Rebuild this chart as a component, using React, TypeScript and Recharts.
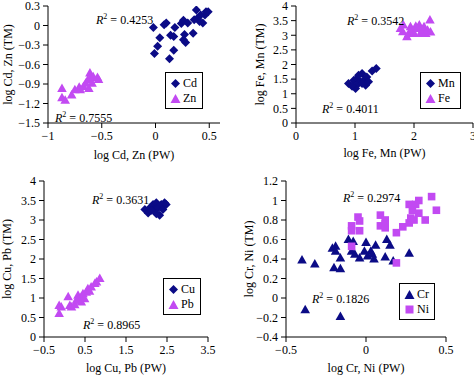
import { ScatterChart, Scatter, XAxis, YAxis, Legend } from "recharts";

// panel 1: Cd / Zn
const cdX = [-0.02, -0.01, 0.02, 0.04, 0.08, 0.1, 0.13, 0.14, 0.17, 0.17, 0.18, 0.24, 0.26, 0.27, 0.28, 0.3, 0.35, 0.38, 0.39, 0.42, 0.44, 0.46, 0.47, 0.41, 0.49, 0.36, 0.26];
const cdY = [-0.03, -0.43, -0.32, -0.19, 0.01, 0.04, -0.51, -0.15, -0.17, -0.38, -0.03, 0.03, 0.08, -0.14, -0.26, 0.04, -0.12, 0.24, 0.11, 0.16, 0.04, 0.16, 0.21, 0.06, 0.21, 0.09, -0.22];
const znX = [-0.87, -0.87, -0.84, -0.78, -0.75, -0.71, -0.7, -0.67, -0.65, -0.63, -0.61, -0.61, -0.59, -0.58, -0.62, -0.54, -0.53];
const znY = [-0.97, -1.11, -1.15, -1.07, -0.99, -0.95, -0.99, -0.94, -0.89, -0.84, -0.73, -0.81, -0.89, -0.79, -0.97, -0.8, -0.83];

// panel 2: Mn / Fe
const mnX = [0.89, 0.98, 1.01, 1.03, 1.06, 1.09, 1.12, 1.15, 1.18, 1.2, 1.03, 1.12, 1.29, 1.36, 1.23, 0.95];
const mnY = [1.35, 1.46, 1.18, 1.51, 1.63, 1.41, 1.69, 1.46, 1.29, 1.57, 1.29, 1.35, 1.78, 1.86, 1.41, 1.26];
const feX = [1.77, 1.81, 1.82, 1.88, 1.91, 1.94, 1.97, 2.0, 2.06, 2.09, 2.11, 2.14, 2.17, 2.2, 2.23, 2.27, 2.03, 2.28];
const feY = [3.23, 3.12, 3.35, 2.95, 3.06, 3.29, 3.17, 3.06, 3.23, 3.35, 3.06, 3.17, 3.29, 3.06, 3.17, 3.52, 3.31, 3.11];

// panel 3: Cu / Pb
const cuX = [1.96, 2.04, 2.08, 2.16, 2.2, 2.24, 2.28, 2.32, 2.36, 2.4, 2.44, 2.12, 2.24, 2.48];
const cuY = [3.27, 3.18, 3.31, 3.4, 3.27, 3.44, 3.31, 3.12, 3.4, 3.27, 3.44, 3.25, 3.16, 3.4];
const pbX = [-0.13, -0.13, -0.08, 0.09, 0.13, 0.17, 0.25, 0.33, 0.37, 0.41, 0.45, 0.49, 0.53, 0.57, 0.61, 0.65, 0.74, 0.78, 0.86, 0.29, 0.41];
const pbY = [0.6, 0.81, 0.77, 1.03, 0.81, 0.77, 0.83, 1.07, 0.94, 1.03, 1.11, 0.98, 1.15, 1.24, 1.17, 1.28, 1.37, 1.41, 1.5, 0.94, 0.9];

// panel 4: Cr / Ni
const crX = [-0.4, -0.38, -0.32, -0.21, -0.19, -0.19, -0.2, -0.16, -0.16, -0.16, -0.11, -0.08, -0.09, -0.07, -0.04, 0.0, -0.01, 0.01, 0.03, 0.04, 0.05, 0.06, 0.13, 0.15, 0.12, 0.17, 0.27];
const crY = [0.39, -0.12, 0.35, 0.51, 0.53, 0.48, 0.31, 0.41, 0.3, -0.19, 0.6, 0.58, 0.48, 0.45, 0.41, 0.57, 0.48, 0.43, 0.48, 0.45, 0.4, 0.54, 0.6, 0.54, 0.42, 0.38, 0.46];
const niX = [-0.09, -0.09, -0.09, -0.05, -0.04, -0.04, 0.09, 0.09, 0.12, 0.12, 0.12, 0.19, 0.19, 0.23, 0.27, 0.27, 0.28, 0.29, 0.3, 0.33, 0.33, 0.37, 0.41, 0.44, 0.31];
const niY = [0.74, 0.69, 0.53, 0.83, 0.79, 0.69, 0.85, 0.74, 0.8, 0.76, 0.72, 0.67, 0.36, 0.73, 0.77, 0.96, 0.82, 0.9, 0.8, 1.0, 0.87, 0.8, 1.04, 0.9, 0.96];

const NAVY = "#0b0b86";
const VIOLET = "#c24af2";
const FONT = '"Liberation Serif", "Times New Roman", serif';

const zip = (xs: number[], ys: number[]) => xs.map((x, i) => ({ x, y: ys[i] }));
const fmt = (v: number) => String(v).replace("-", "\u2212");

const Diamond = (p: any) => {
  const { cx, cy, fill } = p;
  const r = 4.5;
  return <polygon points={`${cx},${cy - r} ${cx + r},${cy} ${cx},${cy + r} ${cx - r},${cy}`} fill={fill} />;
};
const Triangle = (p: any) => {
  const { cx, cy, fill } = p;
  return <polygon points={`${cx},${cy - 5} ${cx + 4.8},${cy + 3.5} ${cx - 4.8},${cy + 3.5}`} fill={fill} />;
};
const Square = (p: any) => {
  const { cx, cy, fill } = p;
  return <rect x={cx - 3.8} y={cy - 3.8} width={7.6} height={7.6} fill={fill} />;
};

const SHAPES: Record<string, any> = { diamond: Diamond, triangle: Triangle, square: Square };

const LegendBox = ({ payload, order }: any) => {
  const items = [...(payload || [])].sort((a: any, b: any) => order.indexOf(a.value) - order.indexOf(b.value));
  return (
    <div style={{ border: "1px solid #000", background: "#fff", padding: "3px 5px 2px 4px", fontFamily: FONT, fontSize: 12, color: "#000" }}>
      {items.map((e: any) => (
        <div key={e.value} style={{ display: "flex", alignItems: "center", height: 15 }}>
          <svg width={11} height={11} style={{ marginRight: 2 }}>
            {e.type === "diamond" && <polygon points="5.5,1 10,5.5 5.5,10 1,5.5" fill={e.color} />}
            {e.type === "triangle" && <polygon points="5.5,1 10.5,10 0.5,10" fill={e.color} />}
            {e.type === "square" && <rect x={1.5} y={1.5} width={8} height={8} fill={e.color} />}
          </svg>
          <span>{e.value}</span>
        </div>
      ))}
    </div>
  );
};

interface Series {
  name: string;
  data: { x: number; y: number }[];
  color: string;
  shape: string;
}

interface PanelProps {
  left: number;
  top: number;
  height: number;
  margin: { top: number; right: number; bottom: number; left: number };
  yWidth: number;
  xHeight: number;
  xDomain: number[];
  xTicks: number[];
  yDomain: number[];
  yTicks: number[];
  xTitle: string;
  yTitle: string;
  yTitleOffset: number;
  xTitleOffset: number;
  legendPos: { left: number; top: number };
  series: Series[];
  r2: { text: string; left: number; top: number }[];
}

const tickStyle = { fontSize: 12, fill: "#000", fontFamily: FONT, style: { fontFamily: FONT } };

function Panel(p: PanelProps) {
  return (
    <div style={{ position: "absolute", left: p.left, top: p.top, width: 237, height: p.height }}>
      <ScatterChart width={237} height={p.height} margin={p.margin} style={{ fontFamily: FONT }}>
        <XAxis
          type="number"
          dataKey="x"
          domain={p.xDomain}
          ticks={p.xTicks}
          interval={0}
          tickFormatter={fmt}
          allowDataOverflow
          height={p.xHeight}
          tick={tickStyle}
          tickSize={5}
          tickMargin={3}
          stroke="#000"
          label={{ value: p.xTitle, position: "insideBottom", offset: p.xTitleOffset, fill: "#000", fontSize: 12, style: { fontFamily: FONT } }}
        />
        <YAxis
          type="number"
          dataKey="y"
          domain={p.yDomain}
          ticks={p.yTicks}
          interval={0}
          tickFormatter={fmt}
          allowDataOverflow
          width={p.yWidth}
          tick={tickStyle}
          tickSize={5}
          tickMargin={3}
          stroke="#000"
          label={{ value: p.yTitle, angle: -90, position: "insideLeft", offset: p.yTitleOffset, style: { textAnchor: "middle", fontFamily: FONT }, fill: "#000", fontSize: 12 }}
        />
        <Legend
          layout="vertical"
          align="center"
          verticalAlign="middle"
          content={<LegendBox order={p.series.map((s) => s.name)} />}
          wrapperStyle={{ position: "absolute", left: p.legendPos.left, top: p.legendPos.top, width: "auto" }}
        />
        {p.series.map((s) => (
          <Scatter
            key={s.name}
            name={s.name}
            data={s.data}
            fill={s.color}
            legendType={s.shape as any}
            shape={SHAPES[s.shape]}
            isAnimationActive={false}
          />
        ))}
      </ScatterChart>
      {p.r2.map((r) => (
        <div key={r.text} style={{ position: "absolute", left: r.left, top: r.top, fontFamily: FONT, fontSize: 12, whiteSpace: "nowrap", color: "#000", lineHeight: "14px" }}>
          <i>R</i>
          <sup style={{ fontSize: 8, verticalAlign: "5px" }}>2</sup> = {r.text}
        </div>
      ))}
    </div>
  );
}

export default function App() {
  return (
    <div style={{ position: "absolute", left: 0, top: 0, width: 474, height: 375, background: "#fff", overflow: "hidden", fontFamily: FONT }}>
      <Panel
        left={0}
        top={0}
        height={190}
        margin={{ top: 6, right: 17, bottom: 0, left: 0 }}
        yWidth={48}
        xHeight={67}
        xDomain={[-1, 0.6]}
        xTicks={[-1, -0.5, 0, 0.5]}
        yDomain={[-1.5, 0.3]}
        yTicks={[-1.5, -1.2, -0.9, -0.6, -0.3, 0, 0.3]}
        xTitle="log Cd, Zn (PW)"
        yTitle="log Cd, Zn (TM)"
        yTitleOffset={8}
        xTitleOffset={31}
        legendPos={{ left: 165, top: 72 }}
        series={[
          { name: "Cd", data: zip(cdX, cdY), color: NAVY, shape: "diamond" },
          { name: "Zn", data: zip(znX, znY), color: VIOLET, shape: "triangle" },
        ]}
        r2={[
          { text: "0.4253", left: 96, top: 10 },
          { text: "0.7555", left: 55, top: 108 },
        ]}
      />
      <Panel
        left={237}
        top={0}
        height={190}
        margin={{ top: 6, right: 1, bottom: 0, left: 0 }}
        yWidth={59}
        xHeight={67}
        xDomain={[0, 3]}
        xTicks={[0, 1, 2, 3]}
        yDomain={[0, 4]}
        yTicks={[0, 0.5, 1, 1.5, 2, 2.5, 3, 3.5, 4]}
        xTitle="log Fe, Mn (PW)"
        yTitle="log Fe, Mn (TM)"
        yTitleOffset={23}
        xTitleOffset={33}
        legendPos={{ left: 183, top: 72 }}
        series={[
          { name: "Mn", data: zip(mnX, mnY), color: NAVY, shape: "diamond" },
          { name: "Fe", data: zip(feX, feY), color: VIOLET, shape: "triangle" },
        ]}
        r2={[
          { text: "0.3542", left: 110, top: 11 },
          { text: "0.4011", left: 85, top: 99 },
        ]}
      />
      <Panel
        left={0}
        top={175}
        height={200}
        margin={{ top: 6, right: 29, bottom: 0, left: 0 }}
        yWidth={44}
        xHeight={38}
        xDomain={[-0.5, 3.5]}
        xTicks={[-0.5, 0.5, 1.5, 2.5, 3.5]}
        yDomain={[0, 4]}
        yTicks={[0, 0.5, 1, 1.5, 2, 2.5, 3, 3.5, 4]}
        xTitle="log Cu, Pb (PW)"
        yTitle="log Cu, Pb (TM)"
        yTitleOffset={7}
        xTitleOffset={3}
        legendPos={{ left: 163, top: 103 }}
        series={[
          { name: "Cu", data: zip(cuX, cuY), color: NAVY, shape: "diamond" },
          { name: "Pb", data: zip(pbX, pbY), color: VIOLET, shape: "triangle" },
        ]}
        r2={[
          { text: "0.3631", left: 92, top: 15 },
          { text: "0.8965", left: 83, top: 140 },
        ]}
      />
      <Panel
        left={237}
        top={175}
        height={200}
        margin={{ top: 6, right: 28, bottom: 0, left: 0 }}
        yWidth={49}
        xHeight={38}
        xDomain={[-0.5, 0.5]}
        xTicks={[-0.5, 0, 0.5]}
        yDomain={[-0.4, 1.2]}
        yTicks={[-0.4, -0.2, 0, 0.2, 0.4, 0.6, 0.8, 1, 1.2]}
        xTitle="log Cr, Ni (PW)"
        yTitle="log Cr, Ni (TM)"
        yTitleOffset={12}
        xTitleOffset={3}
        legendPos={{ left: 162, top: 108 }}
        series={[
          { name: "Cr", data: zip(crX, crY), color: NAVY, shape: "triangle" },
          { name: "Ni", data: zip(niX, niY), color: VIOLET, shape: "square" },
        ]}
        r2={[
          { text: "0.2974", left: 106, top: 13 },
          { text: "0.1826", left: 75, top: 114 },
        ]}
      />
    </div>
  );
}
